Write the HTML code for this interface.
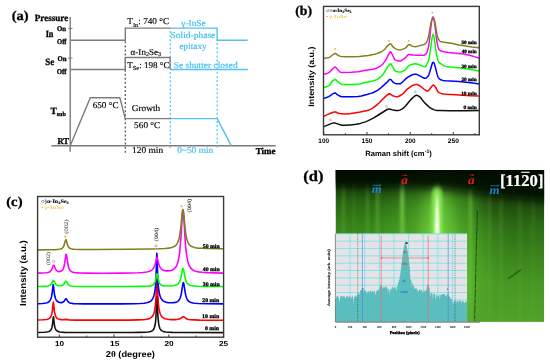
<!DOCTYPE html>
<html><head><meta charset="utf-8"><style>
html,body{margin:0;padding:0;background:#fff;}
svg text{text-rendering:geometricPrecision;}
body{width:550px;height:363px;overflow:hidden;}
svg{display:block;}
</style></head><body>
<svg width="550" height="363" viewBox="0 0 550 363">
<defs></defs>
<g fill="none" stroke-width="1.4">
<path d="M70.2 17V151.7M51.3 145.8H275.8" stroke="#7c7c7c"/>
<path d="M68 28.4H72.5M68 58.1H72.5" stroke="#7c7c7c" stroke-width="1"/>
<path d="M125.3 40V154" stroke="#555" stroke-width="1.25" stroke-dasharray="2,2.05" stroke-dashoffset="2.7"/>
<path d="M170.3 28V149M217.2 40V149" stroke="#52c2ef" stroke-width="1.25" stroke-dasharray="2,2.1" stroke-dashoffset="1"/>
<path d="M70.2 40.2H125.3V28.1H170.2M70.2 69.5H125.3V57.5H170.1V69.5M70.2 145.8L90.3 97.8H119.9L125.2 118.6H170.9" stroke="#7c7c7c"/>
<path d="M170.2 28.1H217.1V40.2H247.6M170.1 69.5H247.8M170.9 118.6H217.3L231.2 145.6" stroke="#52c2ef"/>
</g>
<clipPath id="cb"><rect x="323.5" y="6.4" width="155.8" height="128.4"/></clipPath>
<g clip-path="url(#cb)" fill="none" stroke-width="1.5" stroke-linejoin="round">
<path d="M323.8,126.6 331.8,123.4 333.3,123 334.3,122.9 335.3,123.1 341.8,125.2 342.8,125.3 345.3,125.3 350.3,124.9 356.3,124.3 360.3,123.4 365.3,121.9 368.3,120.6 372.8,118.3 376.8,116 386.3,110 387.8,109.3 388.8,109.1 389.3,109.1 390.3,109.3 393.3,110.1 395.8,110.4 397.8,110.5 398.8,110.4 399.8,110.1 402.3,108.9 403.3,108.2 405.8,105.7 410.8,99.6 411.8,98.6 414.8,96 415.8,95.4 416.3,95.3 416.8,95.3 417.8,95.7 419.8,96.9 420.8,97.9 423.3,101.2 425.3,103.4 427.3,105.4 429.3,107.1 430.8,108.2 431.8,108.8 434.3,109.9 435.8,110.3 436.8,110.5 440.3,110.6 448.8,110.8 466.3,110.7 479.3,110.5" stroke="#111111"/>
<path d="M323.8,116.4 326.8,114.9 331.8,112.8 333.3,112.2 334.3,112 335.3,111.9 335.8,112 338.3,113.3 339.8,113.6 343.3,114.1 346.3,114 350.8,113.5 360.3,111.9 367.3,110.4 369.8,109.7 370.8,109.2 372.3,108.4 376.3,105.4 379.3,102.7 383.8,98.1 387.3,94.9 388.3,94.2 389.3,93.8 389.8,93.8 390.3,94 392.8,95.8 394.8,96.4 396.8,96.7 398.3,96.5 400.3,95.5 402.8,93.9 403.8,93 406.3,90.1 407.3,89.1 410.3,86.9 411.8,85.9 412.8,85.4 414.8,84.7 415.8,84.5 416.8,84.4 417.3,84.5 418.8,85.2 421.3,86.8 423.8,89 425.8,90.4 426.8,91 427.3,91.1 427.8,91 428.3,90.7 428.8,90.3 429.8,89.1 430.8,87.7 432.3,85.8 432.8,85.3 433.3,85.1 433.8,85.3 434.3,85.7 435.8,87.7 437.3,90.7 437.8,91.5 438.3,92.1 439.8,92.9 441.3,93.4 443.8,93.9 446.8,94.2 459.3,95.1 470.3,95.7 479.3,95.9" stroke="#ff0000"/>
<path d="M323.8,98.2 325.8,97.8 328.8,96.6 329.8,96 332.3,94.1 333.8,93.4 334.8,93 335.3,93 335.8,93.2 337.3,94.7 339.3,95.8 340.8,96.5 341.8,96.7 351.3,96.8 358.3,96.4 361.3,95.9 367.8,94.3 370.8,93.4 373.3,92.5 375.8,91.3 378.3,89.8 379.8,88.7 382.8,86.1 386.8,82.4 388.8,80.2 389.8,79.5 390.3,79.4 390.8,79.6 391.3,80 392.8,81.9 393.3,82.4 395.3,83.4 396.3,83.7 397.3,83.8 400.3,83.7 400.8,83.5 401.8,82.7 404.8,79.7 408.3,76.9 411.8,75 413.3,74.4 414.3,74.2 415.8,74.2 416.8,74.4 420.8,76.4 423.3,77.8 424.3,78.2 425.3,78.3 426.3,77.8 427.3,77 427.8,76.5 428.8,74.8 429.8,71.8 432.3,63.2 432.8,62.4 433.3,62.3 433.8,62.7 434.3,63.6 435.3,67.1 437.3,74.9 437.8,76.3 438.3,77.4 438.8,78.3 439.8,79.2 440.8,79.8 442.8,80.4 445.3,80.8 449.8,81.1 458.8,81.6 463.3,81.9 470.8,82.7 479.3,83.9" stroke="#0000ff"/>
<path d="M323.8,87.3 324.8,87.2 326.3,86.8 327.8,86.1 329.3,85.3 329.8,84.7 331.8,81.8 332.3,81.2 333.8,80 334.8,79.5 335.3,79.4 335.8,79.7 337.3,81.3 339.8,83.2 341.3,84 341.8,84.2 343.8,84.4 348.3,84.6 353.3,84.5 358.8,84.1 360.8,83.7 364.8,82.5 371.8,81.2 375.3,80.3 376.8,79.6 378.3,78.7 380.3,77.2 381.8,75.7 383.3,73.9 384.8,71.8 387.8,66.4 389.3,64.5 389.8,64 390.3,63.8 390.8,64 391.3,64.6 392.8,67 394.3,70 394.8,70.7 395.8,71.2 397.3,71.7 399.3,72.1 400.3,72.1 401.3,71.9 402.3,71.5 403.8,70.7 405.3,69.8 405.8,69.3 407.8,66.7 408.8,65.7 411.3,64.6 413.3,64 415.3,63.8 416.8,64 420.3,65.1 423.8,66.6 424.8,66.8 425.3,66.7 425.8,66.1 427.3,63.5 428.3,61.2 428.8,59.6 429.8,54.3 431.8,39.4 432.3,36.6 432.8,34.6 433.3,34.4 433.8,36.1 434.3,38.7 435.8,49.8 436.3,53 437.3,57.8 437.8,59.5 438.3,60.8 438.8,61.8 439.3,62.6 439.8,63.1 443.8,65.6 444.8,66.1 445.8,66.4 449.8,67 458.8,67.8 462.8,68.3 470.8,69.5 479.3,71" stroke="#00ff00"/>
<path d="M323.8,74.2 324.8,74.1 326.3,73.7 327.8,73.1 329.3,72.3 330.3,71.4 332.3,69.2 333.8,67.8 334.8,67.2 335.3,67.1 335.8,67.4 337.3,69.3 339.8,71.8 340.8,72.3 341.3,72.4 351.3,72.3 357.8,71.7 359.8,71.4 365.3,70.2 372.8,69.2 375.8,68.5 377.8,67.6 380.3,66.1 381.8,65 383.3,63.4 384.8,61.5 385.3,60.8 388.3,55.2 389.3,53.1 389.8,52.2 390.3,51.8 390.8,52 391.3,52.7 392.8,55.5 394.3,59 394.8,59.7 395.8,60.2 396.8,60.6 398.8,61 400.3,61.1 400.8,60.9 401.8,60.4 405.3,57.8 407.8,55.1 408.3,54.7 408.8,54.5 409.8,54.4 412.8,55 416.3,55.2 424.3,55.2 424.8,55 425.8,54 426.8,52.5 427.3,51.2 428.3,47.5 428.8,45 429.8,38 430.8,27.8 431.3,23.7 431.8,20.4 432.3,18.4 432.8,17 433.3,17.1 433.8,18.7 434.3,21 435.3,28.4 436.3,37 437.3,43.7 437.8,46 438.3,47.7 438.8,49 439.3,49.8 439.8,50.2 440.8,50.8 441.8,51.2 443.8,51.8 448.3,52.5 458.8,53.4 463.8,54.1 467.3,54.8 471.3,55.8 475.3,56.9 479.3,58.2" stroke="#ff00ff"/>
<path d="M323.8,58.3 326.3,58.1 329.3,57.4 330.3,56.8 331.8,55.5 333.8,54.1 334.8,53.6 335.3,53.5 335.8,53.7 337.3,54.9 339.3,55.9 340.3,56.3 341.3,56.5 346.3,56.7 352.3,56.8 359.3,56.4 368.3,55.4 373.3,54.5 375.8,53.9 377.8,53.3 380.3,52.3 381.8,51.5 383.3,50.5 384.8,49.2 387.8,45.6 389.3,44.3 389.8,44 390.3,43.9 390.8,44 391.3,44.5 392.8,46.6 394.8,48.3 395.8,48.9 397.3,49.4 398.8,49.8 399.8,49.9 400.8,49.8 402.3,49.4 405.3,48.1 406.3,47.2 407.8,45.4 408.3,45 408.8,44.7 409.3,44.6 409.8,44.7 411.3,45.7 412.3,46.1 413.8,46.5 415.3,46.7 416.8,46.5 419.8,45.6 423.8,44.5 424.8,44.1 425.8,43.4 426.3,42.7 427.3,40.5 428.3,37.5 428.8,35.3 430.3,26.5 431.3,21.6 431.8,20 432.3,18.9 432.8,18.2 433.3,18.1 433.8,18.7 434.3,19.8 434.8,21.5 435.8,27.2 436.8,33.6 437.3,35.9 438.3,38.9 438.8,39.8 439.8,41 440.3,41.4 442.3,41.9 451.3,43.2 458.8,44.9 462.8,45.6 471.8,46.9 479.3,47.7" stroke="#80801c"/>
</g>
<rect x="323.5" y="6.4" width="155.8" height="128.4" fill="none" stroke="#3a3a3a" stroke-width="1.4"/>
<path d="M323.8 134.8V132.0M345.4 134.8V133.2M367.0 134.8V132.0M388.6 134.8V133.2M410.2 134.8V132.0M431.7 134.8V133.2M453.3 134.8V132.0M474.9 134.8V133.2" stroke="#3a3a3a" stroke-width="1"/>
<circle cx="335" cy="48.8" r="0.9" fill="#f5a623"/>
<circle cx="389" cy="40.9" r="0.9" fill="#f5a623"/>
<circle cx="408.6" cy="40.9" r="0.9" fill="#f5a623"/>
<circle cx="432.3" cy="12.6" r="0.9" fill="#f5a623"/>
<circle cx="330.3" cy="119.8" r="1.1" fill="none" stroke="#888" stroke-width="0.5"/>
<circle cx="386.4" cy="106.5" r="1.1" fill="none" stroke="#888" stroke-width="0.5"/>
<circle cx="415.2" cy="91.8" r="1.1" fill="none" stroke="#888" stroke-width="0.5"/>
<clipPath id="cc"><rect x="37.6" y="196.5" width="186.0" height="140.7"/></clipPath>
<g clip-path="url(#cc)" fill="none" stroke-width="1.6" stroke-linejoin="round">
<path d="M37.6,332.5 43.4,332.3 46.6,332 47.9,331.8 48.9,331.5 49.6,331.1 50.4,330.5 50.9,329.9 51.4,329 51.9,327.7 52.1,326.6 52.6,323.4 53.1,318.5 53.4,316.9 53.6,317.7 54.1,322.5 54.6,326.1 54.9,327.3 55.4,328.8 56.1,330.1 57.1,331 58.4,331.6 60.1,332 62.1,332.2 64.6,332.4 73.1,332.5 131.6,332.5 140.1,332.4 145.1,332.3 148.3,332 150.6,331.5 151.6,331.1 152.3,330.7 153.1,330 153.6,329.3 154.3,327.8 155.1,325 155.6,321.6 155.8,319 156.3,310 156.8,296.9 157.1,296.2 157.8,314.4 158.1,318.4 158.6,323.2 159.1,325.9 159.8,328.3 160.3,329.2 160.8,329.9 161.3,330.4 162.1,330.9 163.6,331.6 165.6,332 168.3,332.2 172.3,332.4 186.6,332.5 223.6,332.6" stroke="#111111"/>
<path d="M37.6,320 43.1,319.8 46.4,319.5 47.6,319.2 48.6,318.8 49.4,318.4 50.1,317.7 50.6,317 51.1,316.1 51.9,313.7 52.4,310.7 53.1,302.8 53.4,302 53.6,303.8 54.4,311.4 54.9,314.1 55.4,315.7 56.1,317.2 57.1,318.2 58.4,318.9 60.1,319.4 61.6,319.6 63.4,319.7 64.3,319.6 66.1,319.4 67.8,319.8 69.1,319.9 75.6,320.1 103.1,320.1 129.1,320.1 137.6,319.9 143.1,319.7 146.8,319.2 148.1,318.9 149.3,318.6 150.3,318.1 151.3,317.4 152.1,316.7 152.8,315.7 153.6,314.1 154.1,312.7 154.8,309.6 155.3,306.2 155.8,300.6 156.3,290.3 156.8,276.5 157.1,275.8 158.1,299.8 158.3,303.2 158.8,307.7 159.6,311.6 160.3,314 160.8,315.1 161.6,316.3 162.3,317.1 163.1,317.7 164.1,318.3 165.1,318.7 167.6,319.2 171.3,319.6 175.6,319.6 177.8,319.3 179.6,318.9 180.8,318.3 182.6,317 183.3,316.7 184.1,317 185.8,318.4 187.1,319 188.6,319.5 190.8,319.8 194.3,319.9 199.6,320.1 223.6,320.2" stroke="#ff0000"/>
<path d="M37.6,303.7 42.6,303.5 45.9,303 47.1,302.7 48.1,302.2 48.9,301.7 49.6,301 50.4,299.9 50.9,298.9 51.6,296.4 52.1,293.5 53.1,284.6 53.4,284.8 54.4,293.8 54.9,296.6 55.4,298.3 56.1,299.9 57.1,301.2 58.4,302 59.9,302.5 60.9,302.6 61.6,302.6 62.4,302.4 63.1,302.1 63.6,301.7 64.1,301.2 65.6,298.9 65.8,298.7 66.1,298.7 66.6,299.2 67.6,300.9 68.1,301.6 68.6,302.1 69.3,302.7 70.3,303.1 71.6,303.3 73.3,303.6 75.8,303.7 84.1,303.9 101.1,303.9 122.1,303.9 134.3,303.7 140.1,303.5 144.1,303.2 146.8,302.7 149.1,302 150.1,301.5 151.1,300.8 151.8,300 152.6,298.9 153.3,297.3 153.8,295.9 154.3,294.1 154.8,291.6 155.3,288.1 155.8,282.2 156.3,270.1 156.8,253.2 157.1,256.5 157.6,274.3 157.8,279.9 158.1,283.7 158.6,288.6 159.3,293 159.8,295 160.3,296.6 160.8,297.8 161.6,299.2 162.3,300.1 163.1,300.8 164.3,301.6 166.1,302.3 168.1,302.6 170.6,302.8 173.1,302.7 175.1,302.4 176.8,301.9 178.1,301.1 178.8,300.3 179.6,299.1 180.1,298.1 180.6,296.6 181.1,294.6 181.6,292.1 182.8,284.1 183.1,283.1 183.3,282.6 183.6,282.8 183.8,283.6 185.3,293 185.8,295.4 186.3,297.2 187.1,299.1 187.8,300.3 188.8,301.4 189.8,302 191.1,302.5 192.8,303 195.1,303.3 198.1,303.5 206.8,303.8 223.6,303.9" stroke="#0000ff"/>
<path d="M37.6,286.5 42.4,286.4 45.6,286.2 47.6,286 49.1,285.6 50.1,285.1 50.9,284.4 51.6,283.3 52.9,280.8 53.1,280.6 53.4,280.5 53.6,280.6 53.9,281 55.4,283.8 56.1,284.7 56.6,285 57.4,285.4 59.1,285.7 60.4,285.7 61.4,285.6 62.1,285.4 62.9,285 63.9,284.1 65.3,281.6 65.6,281.3 65.8,281.2 66.1,281.2 66.3,281.5 67.6,283.7 68.1,284.4 69.1,285.2 70.1,285.7 71.1,286 74.1,286.3 78.6,286.5 86.6,286.5 126.1,286.5 142.1,286.4 146.1,286.3 148.8,286.1 150.6,285.9 152.1,285.4 153.3,284.7 154.1,283.8 154.6,283 155.1,281.7 155.6,279.8 156.6,274.7 156.8,274 157.1,273.9 157.3,274.5 158.3,279.5 159.1,282.2 159.8,283.7 160.3,284.4 160.8,284.8 161.6,285.2 162.3,285.5 163.3,285.7 164.8,285.9 169.1,286 173.1,285.8 175.3,285.3 177.1,284.7 178.3,283.7 179.3,282.3 180.1,280.7 180.6,279.1 181.3,275.7 182.3,270.1 182.6,269.1 182.8,268.5 183.1,268.4 183.3,268.9 183.6,269.9 185.1,277.9 185.6,279.8 186.1,281.2 186.8,282.7 187.6,283.7 188.6,284.5 189.6,285 190.8,285.5 192.6,285.8 194.8,286.1 197.8,286.3 206.6,286.5 223.6,286.5" stroke="#00ff00"/>
<path d="M37.6,273.1 42.4,273 45.6,272.8 47.9,272.5 49.4,272 50.4,271.3 50.9,270.8 51.4,270.2 52.1,268.7 53.1,266 53.4,265.5 53.6,265.2 53.9,265.2 54.1,265.5 55.4,268.6 55.9,269.6 56.4,270.3 57.1,271 58.1,271.4 59.4,271.6 60.6,271.3 61.6,270.8 62.4,270.2 62.9,269.5 63.4,268.5 63.9,267.1 64.6,263.7 65.6,256.6 65.8,255.2 66.1,254.4 66.3,254.5 66.6,255.4 67.6,262.5 68.1,265.3 68.6,267.4 69.3,269.3 69.8,270.1 70.3,270.7 71.3,271.5 72.8,272.2 74.8,272.6 79.1,272.9 86.6,273.1 102.1,273.2 121.3,273.1 131.3,273 138.3,272.8 143.1,272.5 146.6,272 148.8,271.5 150.6,270.8 152.1,269.8 153.3,268.4 154.1,267.1 154.8,265.4 155.6,262.7 156.6,258 156.8,257.4 157.1,257.3 157.3,257.9 157.6,258.8 158.6,263.4 159.3,265.7 160.3,267.7 161.1,268.6 161.8,269.3 162.8,270 163.8,270.4 165.1,270.7 166.6,270.9 168.1,270.9 169.6,270.8 171.1,270.4 172.3,270 173.6,269.3 174.6,268.5 175.6,267.3 176.3,266.2 177.1,264.6 177.8,262.4 178.8,258.1 179.6,253.1 180.3,245.7 181.1,235.3 182.3,214.2 182.6,211.4 182.8,209.8 183.1,209.6 183.3,211 183.6,213.6 185.3,242 185.8,248.1 186.3,252.8 187.1,257.9 187.8,261.5 188.8,264.7 189.3,265.8 190.1,267.1 190.8,268.2 191.6,268.9 192.3,269.6 193.3,270.2 194.3,270.7 195.6,271.2 198.6,271.9 202.3,272.3 207.3,272.7 214.1,272.9 223.6,273.1" stroke="#ff00ff"/>
<path d="M37.6,249.9 49.4,249.7 55.4,249.6 58.9,249.3 60.1,249 61.1,248.7 61.9,248.4 62.6,247.8 63.1,247.3 63.6,246.5 64.3,244.6 65.3,240.8 65.6,240.1 65.8,239.7 66.1,239.9 66.3,240.4 67.3,244.2 67.8,245.7 68.3,246.7 68.8,247.4 69.8,248.3 70.8,248.7 72.3,249.1 74.3,249.3 80.3,249.5 92.6,249.5 129.1,249.3 150.8,249 158.8,248.8 164.6,248.5 168.6,248.1 171.6,247.5 172.8,247.1 174.1,246.6 175.1,246 176.1,245.1 176.8,244.1 177.6,242.9 178.6,240.4 179.1,238.6 179.6,236.3 180.3,231.5 181.1,224.9 182.1,214.2 182.6,210.7 182.8,210 183.1,210.3 183.6,213.3 185.1,228.6 185.6,232.6 186.3,237 187.1,240 187.8,242.1 188.8,243.9 189.8,245.1 191.3,246.3 193.1,247.1 195.3,247.7 198.1,248.1 201.8,248.3 206.8,248.5 223.6,248.7" stroke="#80801c"/>
</g>
<rect x="37.6" y="196.5" width="186.0" height="140.7" fill="none" stroke="#3a3a3a" stroke-width="1.4"/>
<path d="M59.3 337.2V334.4M86.7 337.2V335.6M114.0 337.2V334.4M141.4 337.2V335.6M168.8 337.2V334.4M196.2 337.2V335.6M223.6 337.2V334.4" stroke="#3a3a3a" stroke-width="1"/>
<circle cx="65.3" cy="236.7" r="1.0" fill="#f5a623"/>
<circle cx="181.5" cy="206.2" r="1.0" fill="#f5a623"/>
<circle cx="53.6" cy="261.4" r="1.1" fill="none" stroke="#777" stroke-width="0.5"/>
<circle cx="156.0" cy="245.9" r="1.1" fill="none" stroke="#777" stroke-width="0.5"/>
<linearGradient id="rg" x1="0" y1="0" x2="0" y2="1"><stop offset="0" stop-color="#060c05"/><stop offset="0.07" stop-color="#0b1c08"/><stop offset="0.14" stop-color="#1b470e"/><stop offset="0.22" stop-color="#2a6814"/><stop offset="0.35" stop-color="#36801a"/><stop offset="0.5" stop-color="#3f921f"/><stop offset="0.75" stop-color="#4fa528"/><stop offset="1" stop-color="#52a72b"/></linearGradient><linearGradient id="dg" x1="0" y1="0" x2="0" y2="1"><stop offset="0" stop-color="#000" stop-opacity="0.4"/><stop offset="0.3" stop-color="#000" stop-opacity="0.18"/><stop offset="1" stop-color="#000" stop-opacity="0.02"/></linearGradient><linearGradient id="sg" x1="0" y1="0" x2="0" y2="1"><stop offset="0" stop-color="#96f060" stop-opacity="0"/><stop offset="0.08" stop-color="#96f060" stop-opacity="1"/><stop offset="0.35" stop-color="#96f060" stop-opacity="0.7"/><stop offset="1" stop-color="#96f060" stop-opacity="0.35"/></linearGradient><filter id="bl1" x="-3" y="-0.5" width="7" height="2"><feGaussianBlur stdDeviation="1.5,4"/></filter><filter id="bl2" x="-2" y="-0.5" width="5" height="2"><feGaussianBlur stdDeviation="2.5,6"/></filter><filter id="bl3" x="-3" y="-1" width="7" height="3"><feGaussianBlur stdDeviation="0.9,2.5"/></filter><filter id="bl4" x="-1" y="-1" width="3" height="3"><feGaussianBlur stdDeviation="4"/></filter><filter id="bl5" x="-1" y="-1" width="3" height="3"><feGaussianBlur stdDeviation="14"/></filter><filter id="bl6" x="-1" y="-1" width="3" height="3"><feGaussianBlur stdDeviation="7"/></filter><filter id="bl9" x="-1" y="-1" width="3" height="3"><feGaussianBlur stdDeviation="0.5"/></filter><filter id="bl8" x="-1" y="-0.2" width="3" height="1.4"><feGaussianBlur stdDeviation="1.6,2.2"/></filter><filter id="bl7" x="-1" y="-0.2" width="3" height="1.4"><feGaussianBlur stdDeviation="9,3"/></filter><clipPath id="cd"><rect x="335.5" y="170.0" width="208.7" height="151.9"/></clipPath>
<g clip-path="url(#cd)">
<rect x="335.5" y="170.0" width="208.7" height="151.9" fill="url(#rg)"/>
<ellipse cx="440" cy="245" rx="55" ry="70" fill="#6cd838" opacity="0.3" filter="url(#bl5)"/>
<ellipse cx="438" cy="236" rx="17" ry="48" fill="#7ee048" opacity="0.6" filter="url(#bl6)"/>
<rect x="478" y="185" width="90" height="140" fill="url(#dg)" filter="url(#bl7)"/>
<path d="M330 160H550V202L500 196L450 189L400 186L330 185Z" fill="#050b04" opacity="0.85" filter="url(#bl4)"/>
<rect x="342.1" y="182" width="3" height="145" fill="url(#sg)" opacity="0.22" filter="url(#bl1)"/>
<rect x="352.75" y="182" width="2.5" height="145" fill="url(#sg)" opacity="0.1" filter="url(#bl1)"/>
<rect x="366.0" y="183" width="3" height="145" fill="url(#sg)" opacity="0.22" filter="url(#bl1)"/>
<rect x="375.75" y="183" width="3.5" height="145" fill="url(#sg)" opacity="0.3" filter="url(#bl1)"/>
<rect x="400.2" y="182" width="4" height="145" fill="url(#sg)" opacity="0.6" filter="url(#bl1)"/>
<rect x="468.75" y="188" width="3.5" height="145" fill="url(#sg)" opacity="0.38" filter="url(#bl1)"/>
<rect x="488.0" y="191" width="3" height="145" fill="url(#sg)" opacity="0.16" filter="url(#bl1)"/>
<rect x="499.5" y="193" width="3" height="145" fill="url(#sg)" opacity="0.16" filter="url(#bl1)"/>
<rect x="518.5" y="195" width="3" height="145" fill="url(#sg)" opacity="0.14" filter="url(#bl1)"/>
<rect x="531.5" y="196" width="3" height="145" fill="url(#sg)" opacity="0.1" filter="url(#bl1)"/>
<path d="M437 186C433 200 428 225 427 330H447C446 225 441 200 437 186Z" fill="#80e048" opacity="0.5" filter="url(#bl2)"/>
<rect x="432" y="187.2" width="10" height="150" rx="5" fill="#90f058" opacity="0.75" filter="url(#bl8)"/>
<path d="M437 190C435.5 200 434.8 215 434.6 330H439.6C439.4 215 438.5 200 437 190Z" fill="#c8ffa0" opacity="0.95" filter="url(#bl3)"/>
<path d="M437.1 197C436.3 208 435.6 220 435.4 234H439C438.8 220 438 208 437.3 197Z" fill="#ffffff" filter="url(#bl3)"/>
<path d="M477.4 211L476.5 240L474.6 321" fill="none" stroke="#0a2005" stroke-width="0.9" opacity="0.65" stroke-dasharray="9,0.8,5,0.8"/>
<path d="M508.5 278.5L520.5 270" stroke="#1e4a0e" stroke-width="1.6" stroke-linecap="round" opacity="0.55" filter="url(#bl9)"/>
</g>
<path d="M521.2 172.3H529.6" stroke="#fff" stroke-width="1.1"/>
<path d="M402.6 175.3H406.2" stroke="#e81c1c" stroke-width="0.7"/><path d="M405.59999999999997 174.3L407.4 175.3L405.59999999999997 176.3Z" fill="#e81c1c"/>
<path d="M469.4 175.0H473.1" stroke="#e81c1c" stroke-width="0.7"/><path d="M472.5 174.0L474.3 175.0L472.5 176.0Z" fill="#e81c1c"/>
<path d="M372.4 185.3H380.2" stroke="#1f80d0" stroke-width="0.7"/><path d="M379.59999999999997 184.3L381.4 185.3L379.59999999999997 186.3Z" fill="#1f80d0"/>
<path d="M490.2 185.7H498.2" stroke="#1f80d0" stroke-width="0.7"/><path d="M497.59999999999997 184.7L499.4 185.7L497.59999999999997 186.7Z" fill="#1f80d0"/>
<rect x="335.4" y="233.8" width="131.7" height="88.0" fill="#e6e3e6"/>
<path d="M335.4 233.80H467.1M335.4 241.15H467.1M335.4 248.50H467.1M335.4 255.85H467.1M335.4 263.20H467.1M335.4 270.55H467.1M335.4 277.90H467.1M335.4 285.25H467.1M335.4 292.60H467.1M335.4 299.95H467.1M335.4 307.30H467.1M335.4 314.65H467.1M350.03 233.8V321.8M364.67 233.8V321.8M379.30 233.8V321.8M393.93 233.8V321.8M408.57 233.8V321.8M423.20 233.8V321.8M437.83 233.8V321.8M452.47 233.8V321.8" stroke="#6fe3ee" stroke-width="0.8"/>
<polygon points="335.4,321.8 335.4,298.8 335.9,299.6 336.4,296.2 336.9,296.4 337.4,296.2 337.9,295.8 338.4,298.7 338.9,295.9 339.4,301.8 339.9,300.8 340.4,295.9 340.9,296.1 341.4,296 341.9,296.6 342.4,297.2 342.9,296.1 343.4,296.3 343.9,295.9 344.4,297 344.9,295.8 345.4,299.4 345.9,298 346.4,296.4 346.9,296.3 347.4,295.8 347.9,296.4 348.4,298.6 348.9,295.9 349.4,295.9 349.9,297.1 350.4,296.9 350.9,295.9 351.4,299.3 351.9,296.3 352.4,295.5 352.9,296.3 353.4,304.5 353.9,296.7 354.4,296.5 354.9,297.5 355.4,295.1 355.9,295.7 356.4,297.5 356.9,295.5 357.4,295.8 357.9,292.5 358.4,294 358.9,292.3 359.4,295.5 359.9,291.8 360.4,289.8 360.9,290.5 361.4,289.4 361.9,289 362.4,288.1 362.9,288.8 363.4,290.1 363.9,291.7 364.4,289.3 364.9,289.5 365.4,291.8 365.9,289.6 366.4,293.9 366.9,290.9 367.4,293 367.9,291.2 368.4,291 368.9,291.7 369.4,293.4 369.9,290.7 370.4,290.5 370.9,291 371.4,292.5 371.9,291.9 372.4,290.6 372.9,291.7 373.4,292.2 373.9,289.9 374.4,290.4 374.9,292.5 375.4,294.4 375.9,294.5 376.4,290.7 376.9,291.2 377.4,289.8 377.9,290.1 378.4,289.9 378.9,291.1 379.4,288.3 379.9,287.2 380.4,285 380.9,284.6 381.4,284.9 381.9,286 382.4,287.6 382.9,288.7 383.4,286.1 383.9,288.1 384.4,287.4 384.9,286.6 385.4,286.8 385.9,286.8 386.4,286.8 386.9,287.7 387.4,287.7 387.9,292.2 388.4,289.2 388.9,287.4 389.4,290.3 389.9,295.3 390.4,288.9 390.9,288.9 391.4,289.7 391.9,286.9 392.4,287.2 392.9,287 393.4,289.6 393.9,287.7 394.4,287.4 394.9,287.5 395.4,286.8 395.9,289.1 396.4,290.8 396.9,285.4 397.4,287.1 397.9,283.5 398.4,283.1 398.9,279.9 399.4,279.9 399.9,275.6 400.4,273.6 400.9,269.9 401.4,264.8 401.9,261.1 402.4,257.1 402.9,252.9 403.4,249.7 403.9,247 404.4,244.6 404.9,242.3 405.4,240.9 405.9,242.2 406.4,245.2 406.9,246.9 407.4,249.7 407.9,253 408.4,256.9 408.9,260.9 409.4,265.1 409.9,268.9 410.4,279.3 410.9,279.5 411.4,280.9 411.9,287.9 412.4,282.4 412.9,283.5 413.4,286.1 413.9,286.6 414.4,287.7 414.9,289.6 415.4,288.6 415.9,288.2 416.4,288.1 416.9,289.5 417.4,289.5 417.9,291.3 418.4,292.1 418.9,290.3 419.4,289.7 419.9,289.2 420.4,290.3 420.9,290.7 421.4,290.6 421.9,289.2 422.4,291.4 422.9,293.8 423.4,288.9 423.9,293.5 424.4,289.4 424.9,291.8 425.4,289.8 425.9,291.5 426.4,290.1 426.9,286.7 427.4,284.7 427.9,284.4 428.4,284.1 428.9,287.9 429.4,287.1 429.9,292 430.4,297.4 430.9,292.9 431.4,292.6 431.9,293.4 432.4,293.3 432.9,299.2 433.4,292.9 433.9,294.5 434.4,293.3 434.9,294.2 435.4,300.9 435.9,293.9 436.4,293.9 436.9,296.6 437.4,296.4 437.9,295.1 438.4,296.7 438.9,295 439.4,294 439.9,300.9 440.4,294.1 440.9,295.3 441.4,294.5 441.9,294.8 442.4,294.2 442.9,293.9 443.4,293.9 443.9,293.9 444.4,294.8 444.9,293.7 445.4,296.6 445.9,295.5 446.4,294 446.9,297.6 447.4,290.6 447.9,297.8 448.4,292.6 448.9,295 449.4,297.2 449.9,297.1 450.4,297.5 450.9,300.1 451.4,298.2 451.9,298.4 452.4,304.1 452.9,300.8 453.4,305 453.9,300.4 454.4,301.2 454.9,300.5 455.4,299.7 455.9,303.2 456.4,302.5 456.9,300.1 457.4,301.5 457.9,301.2 458.4,300.1 458.9,303.7 459.4,300.4 459.9,300.3 460.4,301 460.9,300.3 461.4,303.9 461.9,301.2 462.4,301.5 462.9,300.6 463.4,301.4 463.9,302.3 464.4,303.3 464.9,302.9 465.4,300.5 465.9,302 466.4,301.7 466.9,301.4 467.1,321.8" fill="#5bbebe"/>
<path d="M357.7 233.8V321.8M455.0 233.8V321.8" stroke="#333" stroke-width="0.6" stroke-dasharray="0.8,1"/>
<path d="M362.4 233.8V321.8M448.2 233.8V321.8" stroke="#4a7fe0" stroke-width="0.6"/>
<path d="M381.2 235.8V321.8M428.2 235.8V321.8M381.2 258H428.2" stroke="#f06a6a" stroke-width="0.7"/>
<circle cx="381.6" cy="258" r="0.8" fill="#e04040"/><circle cx="428.2" cy="258" r="0.8" fill="#e04040"/>
<rect x="405.8" y="242.2" width="1.8" height="1.8" fill="#8a0000"/>
<circle cx="363" cy="288.5" r="0.6" fill="#2040c0"/><circle cx="447.5" cy="289" r="0.6" fill="#2040c0"/>
<path d="M335.4 233.8V321.8" stroke="#555" stroke-width="0.6"/>
<path d="M335.4 322.2H480.1" stroke="#444" stroke-width="0.7"/>
<text x="335.4" y="327.5" font-family="'Liberation Serif','Times New Roman',serif" font-size="3.0" font-weight="bold" text-anchor="middle" >0</text>
<text x="350.0" y="327.5" font-family="'Liberation Serif','Times New Roman',serif" font-size="3.0" font-weight="bold" text-anchor="middle" >200</text>
<text x="364.7" y="327.5" font-family="'Liberation Serif','Times New Roman',serif" font-size="3.0" font-weight="bold" text-anchor="middle" >400</text>
<text x="379.3" y="327.5" font-family="'Liberation Serif','Times New Roman',serif" font-size="3.0" font-weight="bold" text-anchor="middle" >600</text>
<text x="393.9" y="327.5" font-family="'Liberation Serif','Times New Roman',serif" font-size="3.0" font-weight="bold" text-anchor="middle" >800</text>
<text x="408.6" y="327.5" font-family="'Liberation Serif','Times New Roman',serif" font-size="3.0" font-weight="bold" text-anchor="middle" >1000</text>
<text x="423.2" y="327.5" font-family="'Liberation Serif','Times New Roman',serif" font-size="3.0" font-weight="bold" text-anchor="middle" >1200</text>
<text x="437.8" y="327.5" font-family="'Liberation Serif','Times New Roman',serif" font-size="3.0" font-weight="bold" text-anchor="middle" >1400</text>
<text x="452.5" y="327.5" font-family="'Liberation Serif','Times New Roman',serif" font-size="3.0" font-weight="bold" text-anchor="middle" >1600</text>
<text x="467.1" y="327.5" font-family="'Liberation Serif','Times New Roman',serif" font-size="3.0" font-weight="bold" text-anchor="middle" >1800</text>
<text transform="translate(11.70,20.00) scale(1.0787,1)" font-family="'Liberation Serif','Times New Roman',serif" font-size="13.5" font-weight="bold" stroke="#000" stroke-width="0.3">(a)</text>
<text transform="translate(34.79,21.07) scale(0.9561,1)" font-family="'Liberation Serif','Times New Roman',serif" font-size="9.5" font-weight="bold" stroke="#000" stroke-width="0.3">Pressure</text>
<text transform="translate(45.63,36.83) scale(0.8560,1)" font-family="'Liberation Serif','Times New Roman',serif" font-size="9.6" font-weight="bold" stroke="#000" stroke-width="0.3">In</text>
<text transform="translate(56.95,31.05) scale(0.9744,1)" font-family="'Liberation Serif','Times New Roman',serif" font-size="7.0" font-weight="bold" stroke="#000" stroke-width="0.3">On</text>
<text transform="translate(57.00,43.73) scale(0.8958,1)" font-family="'Liberation Serif','Times New Roman',serif" font-size="7.4" font-weight="bold" stroke="#000" stroke-width="0.3">Off</text>
<text transform="translate(45.31,65.47) scale(0.9320,1)" font-family="'Liberation Serif','Times New Roman',serif" font-size="9.7" font-weight="bold" stroke="#000" stroke-width="0.3">Se</text>
<text transform="translate(57.40,60.50) scale(0.9744,1)" font-family="'Liberation Serif','Times New Roman',serif" font-size="7.0" font-weight="bold" stroke="#000" stroke-width="0.3">On</text>
<text transform="translate(56.72,74.03) scale(0.9257,1)" font-family="'Liberation Serif','Times New Roman',serif" font-size="7.4" font-weight="bold" stroke="#000" stroke-width="0.3">Off</text>
<text transform="translate(50.45,113.80) scale(0.9810,1)" font-family="'Liberation Serif','Times New Roman',serif" font-size="9.6" font-weight="bold" stroke="#000" stroke-width="0.3">T<tspan font-size="6.2" dy="2.3">sub</tspan></text>
<text transform="translate(57.45,143.70) scale(0.9392,1)" font-family="'Liberation Serif','Times New Roman',serif" font-size="9.0" font-weight="bold" stroke="#000" stroke-width="0.3">RT</text>
<text transform="translate(255.80,153.62) scale(0.9902,1)" font-family="'Liberation Serif','Times New Roman',serif" font-size="9.0" font-weight="bold" stroke="#000" stroke-width="0.3">Time</text>
<text transform="translate(127.35,24.47) scale(1.0365,1)" font-family="'Liberation Serif','Times New Roman',serif" font-size="8.9" stroke="#000" stroke-width="0.14">T<tspan font-size="6.2" dy="2.4">In</tspan><tspan dy="-2.4">: 740 °C</tspan></text>
<text transform="translate(181.31,25.95) scale(1.0495,1)" font-family="'Liberation Serif','Times New Roman',serif" font-size="8.9" stroke="#42bef0" stroke-width="0.16" fill="#42bef0">γ-InSe</text>
<text transform="translate(170.57,38.17) scale(1.0667,1)" font-family="'Liberation Serif','Times New Roman',serif" font-size="8.9" stroke="#42bef0" stroke-width="0.16" fill="#42bef0">Solid-phase</text>
<text transform="translate(179.50,49.40) scale(1.0423,1)" font-family="'Liberation Serif','Times New Roman',serif" font-size="8.9" stroke="#42bef0" stroke-width="0.16" fill="#42bef0">epitaxy</text>
<text transform="translate(130.59,55.02) scale(1.0221,1)" font-family="'Liberation Serif','Times New Roman',serif" font-size="8.9" stroke="#000" stroke-width="0.14">α-In<tspan font-size="6.0" dy="1.3">2</tspan><tspan dy="-1.3">Se</tspan><tspan font-size="6.0" dy="1.3">3</tspan></text>
<text transform="translate(127.25,67.65) scale(1.0246,1)" font-family="'Liberation Serif','Times New Roman',serif" font-size="8.9" stroke="#000" stroke-width="0.14">T<tspan font-size="6.2" dy="2.4">Se</tspan><tspan dy="-2.4">: 198 °C</tspan></text>
<text transform="translate(173.73,67.85) scale(1.0619,1)" font-family="'Liberation Serif','Times New Roman',serif" font-size="8.9" stroke="#42bef0" stroke-width="0.16" fill="#42bef0">Se shutter closed</text>
<text transform="translate(92.64,107.58) scale(1.0367,1)" font-family="'Liberation Serif','Times New Roman',serif" font-size="8.9" stroke="#000" stroke-width="0.14">650 °C</text>
<text transform="translate(131.68,111.05) scale(1.0524,1)" font-family="'Liberation Serif','Times New Roman',serif" font-size="8.9" stroke="#000" stroke-width="0.14">Growth</text>
<text transform="translate(134.08,128.42) scale(1.0474,1)" font-family="'Liberation Serif','Times New Roman',serif" font-size="8.9" stroke="#000" stroke-width="0.14">560 °C</text>
<text transform="translate(132.06,153.23) scale(1.0592,1)" font-family="'Liberation Serif','Times New Roman',serif" font-size="8.9" stroke="#000" stroke-width="0.14">120 min</text>
<text transform="translate(177.14,153.23) scale(1.0574,1)" font-family="'Liberation Serif','Times New Roman',serif" font-size="8.9" stroke="#42bef0" stroke-width="0.16" fill="#42bef0">0~50 min</text>
<text transform="translate(295.29,15.40) scale(1.0196,1)" font-family="'Liberation Serif','Times New Roman',serif" font-size="13.5" font-weight="bold" stroke="#000" stroke-width="0.3">(b)</text>
<text transform="translate(323.73,143.27) scale(0.9768,1)" font-family="'Liberation Sans',Arial,sans-serif" font-size="6.6" font-weight="bold" text-anchor="middle">100</text>
<text transform="translate(366.88,143.40) scale(0.9573,1)" font-family="'Liberation Sans',Arial,sans-serif" font-size="6.6" font-weight="bold" text-anchor="middle">150</text>
<text transform="translate(410.18,143.27) scale(0.9590,1)" font-family="'Liberation Sans',Arial,sans-serif" font-size="6.6" font-weight="bold" text-anchor="middle">200</text>
<text transform="translate(453.28,143.15) scale(1.0146,1)" font-family="'Liberation Sans',Arial,sans-serif" font-size="6.6" font-weight="bold" text-anchor="middle">250</text>
<text transform="translate(365.25,155.80) scale(1.0054,1)" font-family="'Liberation Sans',Arial,sans-serif" font-size="7.6" font-weight="bold">Raman shift (cm<tspan font-size="5.2" dy="-3.2">-1</tspan><tspan dy="3.2">)</tspan></text>
<text transform="translate(313.50,76.63) rotate(-90) scale(1.1094,1)" font-family="'Liberation Sans',Arial,sans-serif" font-size="8.0" font-weight="bold" text-anchor="middle">Intensity (a.u.)</text>
<text transform="translate(476.69,44.45) scale(1.0475,1)" font-family="'Liberation Serif','Times New Roman',serif" font-size="5.0" font-weight="bold" stroke="#000" stroke-width="0.3" text-anchor="end">50 min</text>
<text transform="translate(476.69,53.40) scale(1.0301,1)" font-family="'Liberation Serif','Times New Roman',serif" font-size="5.0" font-weight="bold" stroke="#000" stroke-width="0.3" text-anchor="end">40 min</text>
<text transform="translate(476.69,68.35) scale(1.0475,1)" font-family="'Liberation Serif','Times New Roman',serif" font-size="5.0" font-weight="bold" stroke="#000" stroke-width="0.3" text-anchor="end">30 min</text>
<text transform="translate(476.69,81.40) scale(1.0475,1)" font-family="'Liberation Serif','Times New Roman',serif" font-size="5.0" font-weight="bold" stroke="#000" stroke-width="0.3" text-anchor="end">20 min</text>
<text transform="translate(476.69,94.85) scale(1.0647,1)" font-family="'Liberation Serif','Times New Roman',serif" font-size="5.0" font-weight="bold" stroke="#000" stroke-width="0.3" text-anchor="end">10 min</text>
<text transform="translate(476.68,108.70) scale(1.0900,1)" font-family="'Liberation Serif','Times New Roman',serif" font-size="5.0" font-weight="bold" stroke="#000" stroke-width="0.3" text-anchor="end">0 min</text>
<text transform="translate(326.12,11.90) scale(1.1089,1)" font-family="'Liberation Serif','Times New Roman',serif" font-size="4.8" font-weight="bold" stroke="#000" stroke-width="0.1"><tspan fill="#888">○○</tspan>α-In<tspan font-size="3.4" dy="1">2</tspan><tspan dy="-1">Se</tspan><tspan font-size="3.4" dy="1">3</tspan></text>
<text transform="translate(326.12,18.18) scale(1.5057,1)" font-family="'Liberation Serif','Times New Roman',serif" font-size="4.6" stroke="#f7b940" stroke-width="0.05" fill="#f7b940">•<tspan dx="0.3">γ-InSe</tspan></text>
<text transform="translate(41.08,202.80) scale(1.1935,1)" font-family="'Liberation Serif','Times New Roman',serif" font-size="5.2" font-weight="bold" stroke="#000" stroke-width="0.1"><tspan fill="#666">○)</tspan>α-In<tspan font-size="3.6" dy="1">2</tspan><tspan dy="-1">Se</tspan><tspan font-size="3.6" dy="1">3</tspan></text>
<text transform="translate(41.10,209.32) scale(1.5137,1)" font-family="'Liberation Serif','Times New Roman',serif" font-size="5.0" stroke="#f7b940" stroke-width="0.05" fill="#f7b940">•<tspan dx="0.3">γ-InSe</tspan></text>
<text transform="translate(68.40,226.64) rotate(-90) scale(1.2135,1)" font-family="'Liberation Serif','Times New Roman',serif" font-size="5.4" stroke="#333" stroke-width="0.05" fill="#333" text-anchor="middle">(002)</text>
<text transform="translate(50.05,258.48) rotate(-90) scale(1.1262,1)" font-family="'Liberation Serif','Times New Roman',serif" font-size="5.4" stroke="#333" stroke-width="0.05" fill="#333" text-anchor="middle">(002)</text>
<text transform="translate(158.10,234.67) rotate(-90) scale(1.1611,1)" font-family="'Liberation Serif','Times New Roman',serif" font-size="5.4" stroke="#333" stroke-width="0.05" fill="#333" text-anchor="middle">(004)</text>
<text transform="translate(190.80,205.67) rotate(-90) scale(1.1611,1)" font-family="'Liberation Serif','Times New Roman',serif" font-size="5.4" stroke="#333" stroke-width="0.05" fill="#333" text-anchor="middle">(004)</text>
<text transform="translate(6.22,205.88) scale(1.0877,1)" font-family="'Liberation Serif','Times New Roman',serif" font-size="13.5" font-weight="bold" stroke="#000" stroke-width="0.3">(c)</text>
<text transform="translate(59.47,346.30) scale(1.1459,1)" font-family="'Liberation Sans',Arial,sans-serif" font-size="7.2" font-weight="bold" text-anchor="middle">10</text>
<text transform="translate(114.82,346.18) scale(1.1738,1)" font-family="'Liberation Sans',Arial,sans-serif" font-size="7.2" font-weight="bold" text-anchor="middle">15</text>
<text transform="translate(169.03,346.30) scale(1.1494,1)" font-family="'Liberation Sans',Arial,sans-serif" font-size="7.2" font-weight="bold" text-anchor="middle">20</text>
<text transform="translate(223.57,346.30) scale(1.1485,1)" font-family="'Liberation Sans',Arial,sans-serif" font-size="7.2" font-weight="bold" text-anchor="middle">25</text>
<text transform="translate(105.78,356.73) scale(1.0789,1)" font-family="'Liberation Sans',Arial,sans-serif" font-size="8.6" font-weight="bold">2<tspan font-family="'Liberation Serif','Times New Roman',serif">θ</tspan> (degree)</text>
<text transform="translate(26.15,273.14) rotate(-90) scale(1.1047,1)" font-family="'Liberation Sans',Arial,sans-serif" font-size="8.8" font-weight="bold" text-anchor="middle">Intensity (a.u.)</text>
<text transform="translate(219.70,247.77) scale(1.0373,1)" font-family="'Liberation Serif','Times New Roman',serif" font-size="5.6" font-weight="bold" stroke="#000" stroke-width="0.3" text-anchor="end">50 min</text>
<text transform="translate(219.70,270.82) scale(1.0364,1)" font-family="'Liberation Serif','Times New Roman',serif" font-size="5.6" font-weight="bold" stroke="#000" stroke-width="0.3" text-anchor="end">40 min</text>
<text transform="translate(219.70,285.52) scale(1.0373,1)" font-family="'Liberation Serif','Times New Roman',serif" font-size="5.6" font-weight="bold" stroke="#000" stroke-width="0.3" text-anchor="end">30 min</text>
<text transform="translate(219.20,302.02) scale(1.0341,1)" font-family="'Liberation Serif','Times New Roman',serif" font-size="5.6" font-weight="bold" stroke="#000" stroke-width="0.3" text-anchor="end">20 min</text>
<text transform="translate(219.20,318.03) scale(1.0502,1)" font-family="'Liberation Serif','Times New Roman',serif" font-size="5.6" font-weight="bold" stroke="#000" stroke-width="0.3" text-anchor="end">10 min</text>
<text transform="translate(219.00,330.02) scale(1.0370,1)" font-family="'Liberation Serif','Times New Roman',serif" font-size="5.6" font-weight="bold" stroke="#000" stroke-width="0.3" text-anchor="end">0 min</text>
<text transform="translate(303.32,181.47) scale(1.0874,1)" font-family="'Liberation Serif','Times New Roman',serif" font-size="15.2" font-weight="bold" stroke="#000" stroke-width="0.3">(d)</text>
<text transform="translate(401.14,183.75) scale(1.1053,1)" font-family="'Liberation Serif','Times New Roman',serif" font-size="12" font-weight="bold" font-style="italic" fill="#e81c1c">a</text>
<text transform="translate(468.10,183.75) scale(1.1133,1)" font-family="'Liberation Serif','Times New Roman',serif" font-size="12" font-weight="bold" font-style="italic" fill="#e81c1c">a</text>
<text transform="translate(371.63,193.47) scale(1.0649,1)" font-family="'Liberation Serif','Times New Roman',serif" font-size="12" font-weight="bold" font-style="italic" fill="#1f80d0">m</text>
<text transform="translate(489.58,193.97) scale(1.0827,1)" font-family="'Liberation Serif','Times New Roman',serif" font-size="12" font-weight="bold" font-style="italic" fill="#1f80d0">m</text>
<text transform="translate(499.99,186.07) scale(1.0098,1)" font-family="'Liberation Serif','Times New Roman',serif" font-size="16.5" font-weight="bold" stroke="#fff" stroke-width="0.2" fill="#fff">[11<tspan>2</tspan>0]</text>
<text transform="translate(403.01,253.15) scale(1.2168,1)" font-family="'Liberation Serif','Times New Roman',serif" font-size="3.2" stroke="#d04848" stroke-width="0.12" fill="#d04848">43</text>
<text transform="translate(401.81,264.50) scale(1.1426,1)" font-family="'Liberation Serif','Times New Roman',serif" font-size="3.2" stroke="#d04848" stroke-width="0.12" fill="#d04848">478</text>
<text transform="translate(402.56,282.05) scale(1.0769,1)" font-family="'Liberation Serif','Times New Roman',serif" font-size="3.2" stroke="#3070d0" stroke-width="0.12" fill="#3070d0">46</text>
<text transform="translate(400.27,293.45) scale(1.1924,1)" font-family="'Liberation Serif','Times New Roman',serif" font-size="3.2" stroke="#3070d0" stroke-width="0.12" fill="#3070d0">1266</text>
<text transform="translate(404.68,334.25) scale(1.0544,1)" font-family="'Liberation Serif','Times New Roman',serif" font-size="4.2" font-weight="bold" stroke="#000" stroke-width="0.3" text-anchor="middle">Position (pixels)</text>
<text transform="translate(329.98,277.66) rotate(-90) scale(1.2944,1)" font-family="'Liberation Serif','Times New Roman',serif" font-size="3.8" stroke="#000" stroke-width="0.12" text-anchor="middle">Average intensity (arb. units)</text>
</svg>
</body></html>
